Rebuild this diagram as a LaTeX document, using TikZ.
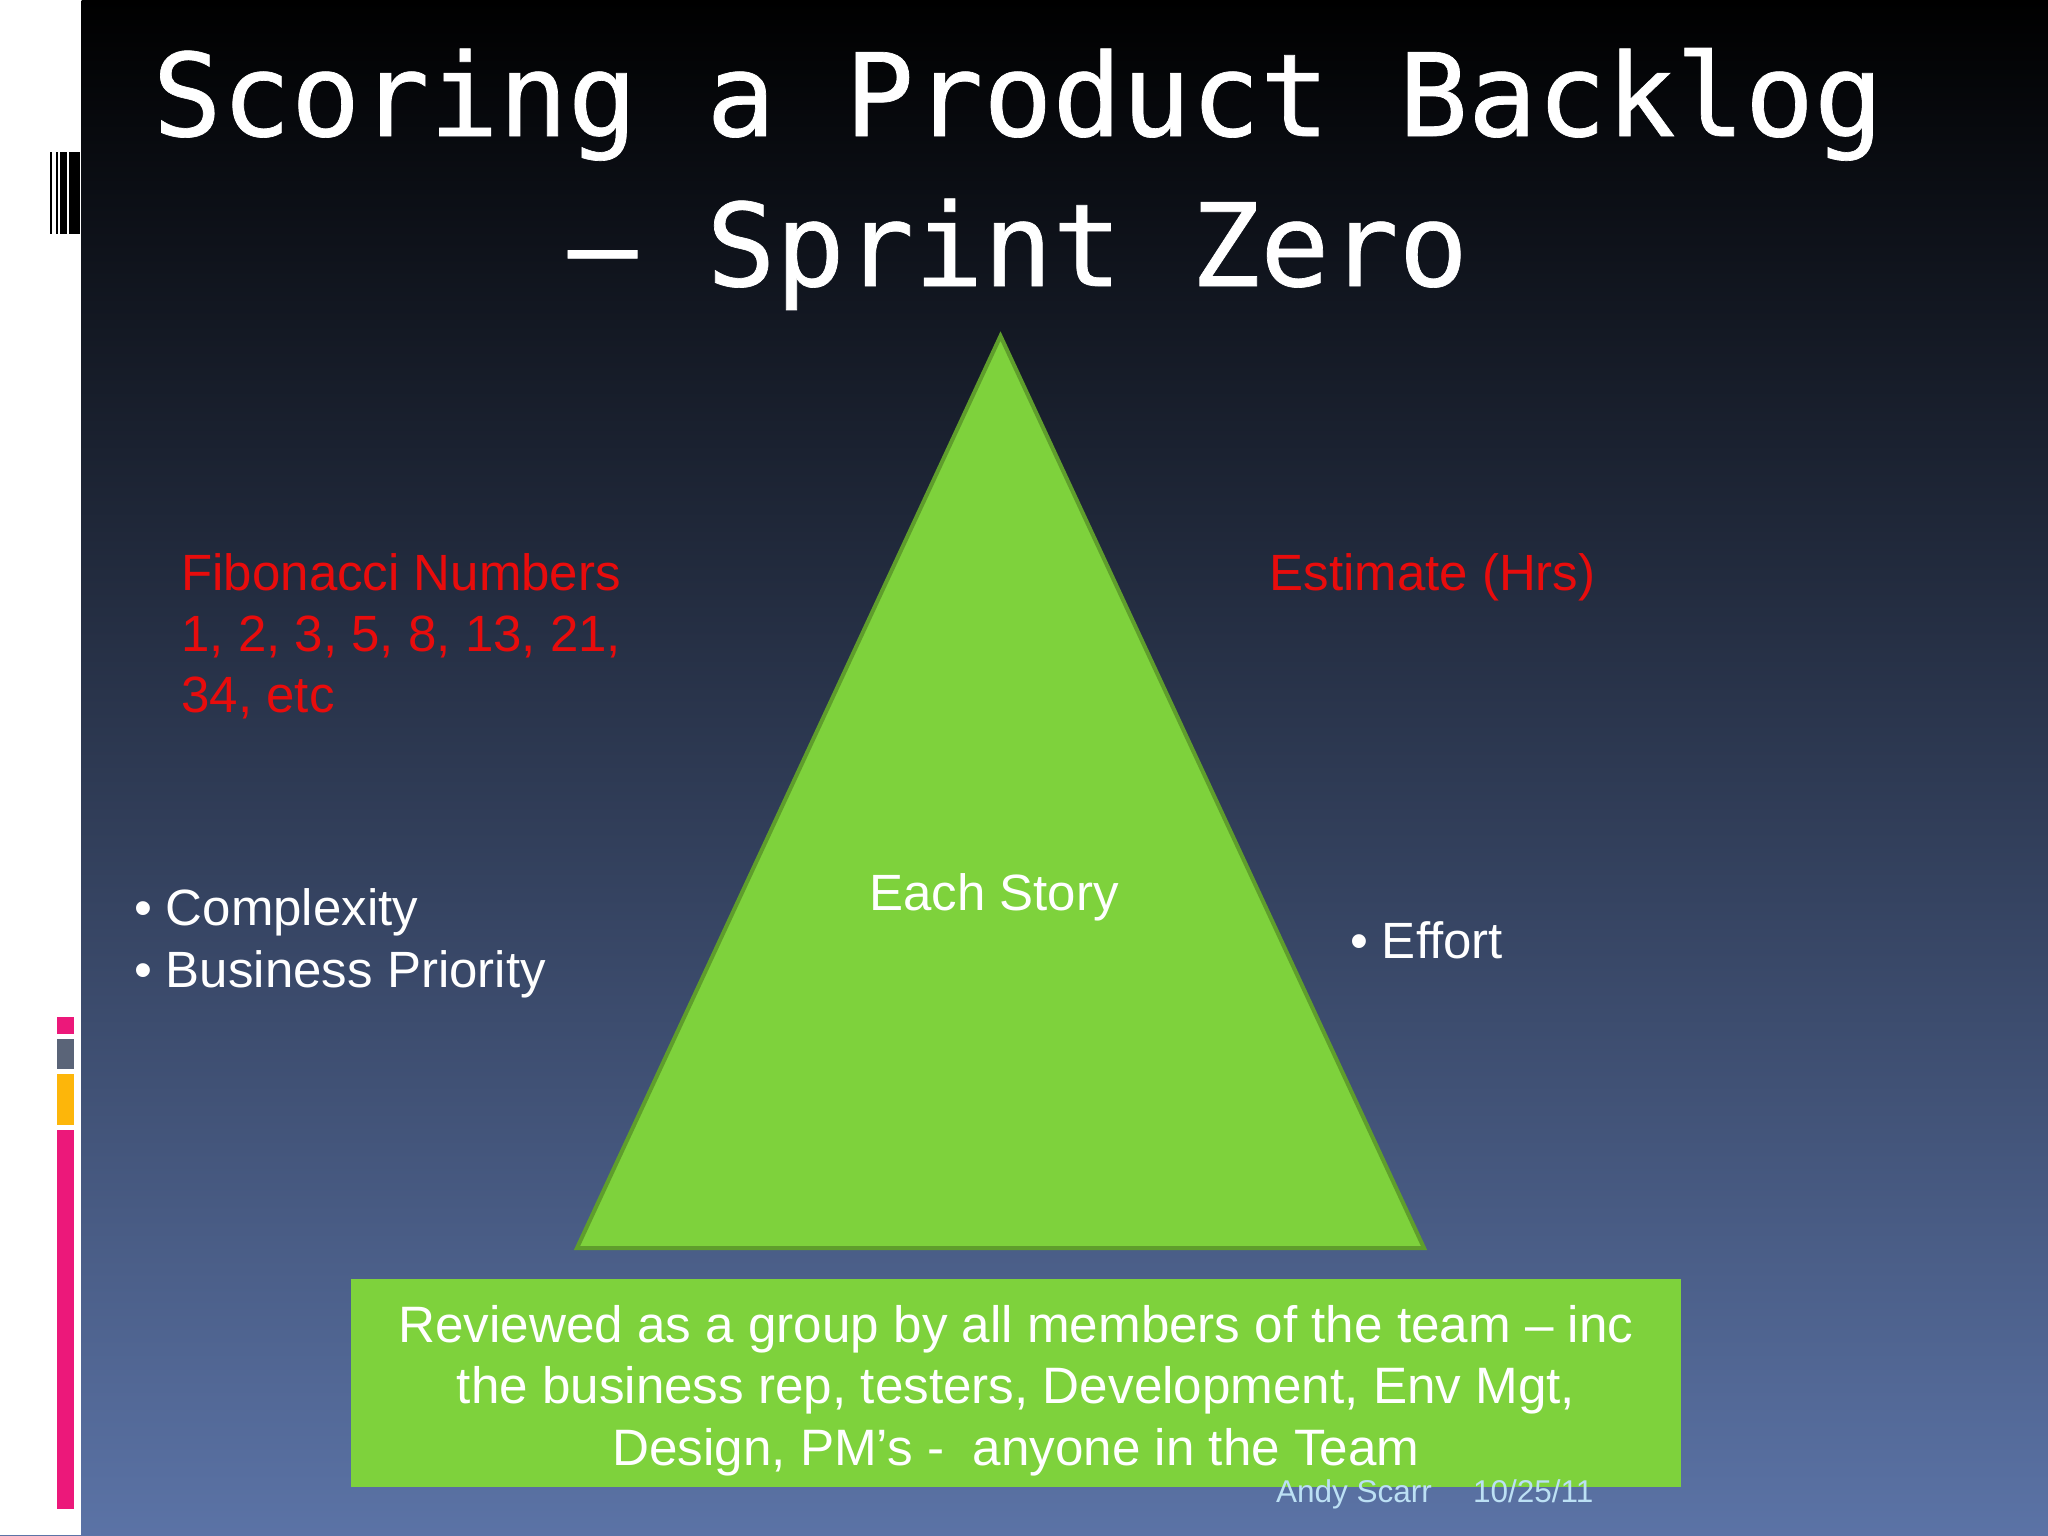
\documentclass[tikz,border=0pt]{standalone}
\usepackage{fontspec}
\setmainfont{Liberation Sans}
\newfontfamily\titlefont[FakeBold=0.6]{DejaVu Sans Mono}
\definecolor{panelwhite}{HTML}{FFFFFF}
\definecolor{bgbottom}{HTML}{5B73A6}
\definecolor{leaf}{HTML}{7ED23C}
\definecolor{leafedge}{HTML}{5F9E2C}
\definecolor{noteRed}{HTML}{E80C0C}
\definecolor{footblue}{HTML}{BCE0F4}
\definecolor{barpink}{HTML}{EC187A}
\definecolor{bargray}{HTML}{5A6478}
\definecolor{baryellow}{HTML}{FDB60A}
\tikzset{
  x=1pt,y=-1pt,
  body/.style={inner sep=0pt,outer sep=0pt,font=\fontsize{51}{61.4}\selectfont,text=white,align=left,anchor=base west},
  rednote/.style={body,text=noteRed},
  titletext/.style={inner sep=0pt,outer sep=0pt,font=\titlefont\fontsize{115}{150}\selectfont,text=white,align=center,anchor=base},
  foot/.style={inner sep=0pt,outer sep=0pt,font=\fontsize{31.5}{36}\selectfont,text=footblue,anchor=base west},
  barcode/.style={fill=black,draw=none},
}
\newcommand{\bul}{\makebox[31.5pt][l]{•}}
\begin{document}
\begin{tikzpicture}
\useasboundingbox (0,0) rectangle (2048,1536);
\fill[panelwhite] (0,0) rectangle (2048,1536);
\fill[bgbottom] (0,1534.5) rectangle (81.7,1536);
\shade[top color=black,bottom color=bgbottom] (81.7,0) rectangle (2048,1536);
% barcode
\fill[barcode] (49.7,152) rectangle (51.7,234);
\fill[barcode] (55.7,152) rectangle (58,234);
\fill[barcode] (59.7,152) rectangle (66.7,234);
\fill[barcode] (69,152) rectangle (80,234);
% colour bars
\fill[barpink] (57,1016.9) rectangle (73.7,1033.9);
\fill[bargray] (57,1038.5) rectangle (73.7,1069.4);
\fill[baryellow] (57,1074) rectangle (73.7,1125.4);
\fill[barpink] (57,1130.4) rectangle (73.7,1509.4);
% title
\node[titletext] (title) at (1018,286) {Scoring a Product Backlog\\– Sprint Zero};
% triangle
\coordinate (apex) at (1000.5,336);
\coordinate (bl) at (577,1248);
\coordinate (br) at (1424,1248);
\draw[fill=leaf,draw=leafedge,line width=4pt,miter limit=10] (apex) -- (br) -- (bl) -- cycle;
% notes
\node[rednote] (fib) at (181.5,712.8) {Fibonacci Numbers\\1, 2, 3, 5, 8, 13, 21,\\34, etc};
\node[rednote] (est) at (1269.5,590) {Estimate (Hrs)};
\node[body] (cx) at (134.5,987) {\bul Complexity\\\bul Business Priority};
\node[body,anchor=base] (story) at (994,910) {Each Story};
\node[body] (effort) at (1350.5,958.6) {\bul Effort};
% banner
\node[fill=leaf,inner sep=0pt,minimum width=1330pt,minimum height=208pt,anchor=north west] (banner) at (351,1279) {};
\node[body,align=center,anchor=base,font=\fontsize{51.2}{61.4}\selectfont] (bannertext) at (1016,1465) {Reviewed as a group by all members of the team – inc\\the business rep, testers, Development, Env Mgt,\\Design, PM’s -\ \ anyone in the Team};
\node[foot] (author) at (1276,1502) {Andy Scarr};
\node[foot] (date) at (1473,1502) {10/25/11};
\end{tikzpicture}
\end{document}
